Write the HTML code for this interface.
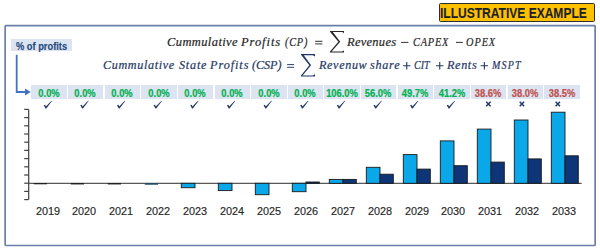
<!DOCTYPE html><html><head><meta charset="utf-8"><style>
html,body{margin:0;padding:0;background:#fff;width:600px;height:252px;overflow:hidden;position:relative}
.a{position:absolute}
.t{position:absolute;white-space:nowrap;transform-origin:0 0}
.c{position:absolute;background:#dce4f1;height:14px;top:84.8px;width:35.4px}
.lb{position:absolute;width:80px;text-align:center;white-space:nowrap;font-family:"Liberation Sans",sans-serif;font-weight:bold;transform-origin:40px 0;-webkit-text-stroke:0.2px currentColor}
.yr{position:absolute;width:60px;text-align:center;white-space:nowrap;font-family:"Liberation Sans",sans-serif;color:#262626;transform-origin:30px 0;-webkit-text-stroke:0.15px #262626}
</style></head><body>
<div class="a" style="left:439.2px;top:2.6px;width:153.7px;height:17.8px;background:#ffc000;border:1px solid #2e2e2e;border-radius:1.5px"></div>
<svg class="a" style="left:0;top:0" width="600" height="252"><rect x="5.15" y="25.65" width="590" height="219.85" rx="0.8" fill="none" stroke="#6a7fa9" stroke-width="1.7"/></svg>
<div class="a" style="left:10.8px;top:39.3px;width:60.9px;height:12px;background:#dce4f1"></div>
<svg class="a" style="left:0;top:0" width="600" height="252"><path d="M315.1 41.3 H322.4 M315.1 43.9 H322.4" stroke="#262626" stroke-width="0.95"/><path d="M401.1 42.4 H408.4 M456.0 42.4 H462.9" stroke="#262626" stroke-width="0.95"/><path d="M287.1 64.6 H294.1 M287.1 67.3 H294.1" stroke="#1f3864" stroke-width="0.95"/><path d="M403.05 65.8 H410.45 M406.75 62.1 V69.5" stroke="#1f3864" stroke-width="1.1"/><path d="M436.05 65.8 H443.45 M439.75 62.1 V69.5" stroke="#1f3864" stroke-width="1.1"/><path d="M480.65 65.8 H488.05 M484.35 62.1 V69.5" stroke="#1f3864" stroke-width="1.1"/></svg>
<div class="t" style="left:440.48px;top:-1.20px;font-family:'Liberation Sans',sans-serif;font-size:14px;line-height:28.000px;font-weight:bold;font-style:normal;color:#1a1f2b;transform:scaleX(0.8591);letter-spacing:0.0px;-webkit-text-stroke:0.1px #1a1f2b">ILLUSTRATIVE EXAMPLE</div>
<div class="t" style="left:15.88px;top:36.90px;font-family:'Liberation Sans',sans-serif;font-size:10.2px;line-height:20.400px;font-weight:bold;font-style:normal;color:#1f497d;transform:scaleX(0.9119);letter-spacing:0.0px;-webkit-text-stroke:0.15px #1f497d">% of profits</div>
<div class="t" style="left:166.54px;top:30.00px;font-family:'Liberation Serif',serif;font-size:12.0px;line-height:24.000px;font-weight:normal;font-style:italic;color:#262626;transform:scaleX(1.04);letter-spacing:0.39px;-webkit-text-stroke:0.2px #262626">Cummulative</div>
<div class="t" style="left:240.89px;top:30.00px;font-family:'Liberation Serif',serif;font-size:12.0px;line-height:24.000px;font-weight:normal;font-style:italic;color:#262626;transform:scaleX(1.04);letter-spacing:0.909px;-webkit-text-stroke:0.2px #262626">Profits</div>
<div class="t" style="left:285.39px;top:30.00px;font-family:'Liberation Serif',serif;font-size:12.0px;line-height:24.000px;font-weight:normal;font-style:italic;color:#262626;transform:scaleX(0.86);letter-spacing:0.888px;-webkit-text-stroke:0.2px #262626">(CP)</div>
<div class="t" style="left:347.39px;top:30.00px;font-family:'Liberation Serif',serif;font-size:12.0px;line-height:24.000px;font-weight:normal;font-style:italic;color:#262626;transform:scaleX(1.04);letter-spacing:0.268px;-webkit-text-stroke:0.2px #262626">Revenues</div>
<div class="t" style="left:412.71px;top:30.00px;font-family:'Liberation Serif',serif;font-size:12.0px;line-height:24.000px;font-weight:normal;font-style:italic;color:#262626;transform:scaleX(0.86);letter-spacing:0.935px;-webkit-text-stroke:0.2px #262626">CAPEX</div>
<div class="t" style="left:465.77px;top:30.00px;font-family:'Liberation Serif',serif;font-size:12.0px;line-height:24.000px;font-weight:normal;font-style:italic;color:#262626;transform:scaleX(0.86);letter-spacing:1.088px;-webkit-text-stroke:0.2px #262626">OPEX</div>
<div class="t" style="left:103.14px;top:54.20px;font-family:'Liberation Serif',serif;font-size:11.702px;line-height:23.404px;font-weight:normal;font-style:italic;color:#1f3864;transform:scaleX(1.04);letter-spacing:0.6px;-webkit-text-stroke:0.2px #1f3864">Cummulative</div>
<div class="t" style="left:179.25px;top:54.20px;font-family:'Liberation Serif',serif;font-size:11.702px;line-height:23.404px;font-weight:normal;font-style:italic;color:#1f3864;transform:scaleX(1.04);letter-spacing:0.763px;-webkit-text-stroke:0.2px #1f3864">State</div>
<div class="t" style="left:209.79px;top:54.20px;font-family:'Liberation Serif',serif;font-size:11.702px;line-height:23.404px;font-weight:normal;font-style:italic;color:#1f3864;transform:scaleX(1.04);letter-spacing:0.928px;-webkit-text-stroke:0.2px #1f3864">Profits</div>
<div class="t" style="left:252.09px;top:54.20px;font-family:'Liberation Serif',serif;font-size:11.702px;line-height:23.404px;font-weight:normal;font-style:italic;color:#1f3864;transform:scaleX(1.04);letter-spacing:-0.041px;-webkit-text-stroke:0.2px #1f3864">(CSP)</div>
<div class="t" style="left:318.79px;top:54.20px;font-family:'Liberation Serif',serif;font-size:11.702px;line-height:23.404px;font-weight:normal;font-style:italic;color:#1f3864;transform:scaleX(1.04);letter-spacing:0.616px;-webkit-text-stroke:0.2px #1f3864">Revenuw</div>
<div class="t" style="left:369.77px;top:54.20px;font-family:'Liberation Serif',serif;font-size:11.702px;line-height:23.404px;font-weight:normal;font-style:italic;color:#1f3864;transform:scaleX(1.04);letter-spacing:0.715px;-webkit-text-stroke:0.2px #1f3864">share</div>
<div class="t" style="left:414.33px;top:54.20px;font-family:'Liberation Serif',serif;font-size:11.702px;line-height:23.404px;font-weight:normal;font-style:italic;color:#1f3864;transform:scaleX(0.86);letter-spacing:-0.075px;-webkit-text-stroke:0.2px #1f3864">CIT</div>
<div class="t" style="left:447.19px;top:54.20px;font-family:'Liberation Serif',serif;font-size:11.702px;line-height:23.404px;font-weight:normal;font-style:italic;color:#1f3864;transform:scaleX(1.04);letter-spacing:0.632px;-webkit-text-stroke:0.2px #1f3864">Rents</div>
<div class="t" style="left:492.49px;top:54.20px;font-family:'Liberation Serif',serif;font-size:11.702px;line-height:23.404px;font-weight:normal;font-style:italic;color:#1f3864;transform:scaleX(0.86);letter-spacing:1.316px;-webkit-text-stroke:0.2px #1f3864">MSPT</div>
<svg class="a" style="left:329.6px;top:31.1px" width="14.4" height="21.6" viewBox="0 0 14.4 21.6" preserveAspectRatio="none"><path d="M0 0 H14.4 V3.6 Q13.9 1.1 11.5 1.1 H2.8 L10.2 10.8 L1.6 20.5 H11.5 Q13.9 20.5 14.4 18 V21.6 H0 V20.6 L8.4 10.8 L0 0.8 Z" fill="#262626"/></svg>
<svg class="a" style="left:301px;top:54.2px" width="14.3" height="22.6" viewBox="0 0 14.4 21.6" preserveAspectRatio="none"><path d="M0 0 H14.4 V3.6 Q13.9 1.1 11.5 1.1 H2.8 L10.2 10.8 L1.6 20.5 H11.5 Q13.9 20.5 14.4 18 V21.6 H0 V20.6 L8.4 10.8 L0 0.8 Z" fill="#1f3864"/></svg>
<svg class="a" style="left:0;top:0" width="600" height="252"><path d="M16.7 54.8 V92 H26" stroke="#4472c4" stroke-width="1.8" fill="none"/><path d="M25 88.6 L30.8 92 L25 95.4 Z" fill="#4472c4"/></svg>
<div class="c" style="left:31.30px"></div>
<div class="c" style="left:67.94px"></div>
<div class="c" style="left:104.58px"></div>
<div class="c" style="left:141.22px"></div>
<div class="c" style="left:177.86px"></div>
<div class="c" style="left:214.50px"></div>
<div class="c" style="left:251.14px"></div>
<div class="c" style="left:287.78px"></div>
<div class="c" style="left:324.42px"></div>
<div class="c" style="left:361.06px"></div>
<div class="c" style="left:397.70px"></div>
<div class="c" style="left:434.34px"></div>
<div class="c" style="left:470.98px"></div>
<div class="c" style="left:507.62px"></div>
<div class="c" style="left:544.26px"></div>
<div class="lb" style="left:8.70px;top:83.50px;font-size:10.2px;line-height:20.400px;color:#00b050;transform:scaleX(0.9177)">0.0%</div>
<div class="lb" style="left:45.34px;top:83.50px;font-size:10.2px;line-height:20.400px;color:#00b050;transform:scaleX(0.9177)">0.0%</div>
<div class="lb" style="left:81.98px;top:83.50px;font-size:10.2px;line-height:20.400px;color:#00b050;transform:scaleX(0.9177)">0.0%</div>
<div class="lb" style="left:118.62px;top:83.50px;font-size:10.2px;line-height:20.400px;color:#00b050;transform:scaleX(0.9177)">0.0%</div>
<div class="lb" style="left:155.26px;top:83.50px;font-size:10.2px;line-height:20.400px;color:#00b050;transform:scaleX(0.9177)">0.0%</div>
<div class="lb" style="left:191.90px;top:83.50px;font-size:10.2px;line-height:20.400px;color:#00b050;transform:scaleX(0.9177)">0.0%</div>
<div class="lb" style="left:228.54px;top:83.50px;font-size:10.2px;line-height:20.400px;color:#00b050;transform:scaleX(0.9177)">0.0%</div>
<div class="lb" style="left:265.18px;top:83.50px;font-size:10.2px;line-height:20.400px;color:#00b050;transform:scaleX(0.9177)">0.0%</div>
<div class="lb" style="left:301.82px;top:83.50px;font-size:10.2px;line-height:20.400px;color:#00b050;transform:scaleX(0.9177)">106.0%</div>
<div class="lb" style="left:338.46px;top:83.50px;font-size:10.2px;line-height:20.400px;color:#00b050;transform:scaleX(0.9177)">56.0%</div>
<div class="lb" style="left:375.10px;top:83.50px;font-size:10.2px;line-height:20.400px;color:#00b050;transform:scaleX(0.9177)">49.7%</div>
<div class="lb" style="left:411.74px;top:83.50px;font-size:10.2px;line-height:20.400px;color:#00b050;transform:scaleX(0.9177)">41.2%</div>
<div class="lb" style="left:448.38px;top:83.50px;font-size:10.2px;line-height:20.400px;color:#c0504d;transform:scaleX(0.9177)">38.6%</div>
<div class="lb" style="left:485.02px;top:83.50px;font-size:10.2px;line-height:20.400px;color:#c0504d;transform:scaleX(0.9177)">38.0%</div>
<div class="lb" style="left:521.66px;top:83.50px;font-size:10.2px;line-height:20.400px;color:#c0504d;transform:scaleX(0.9177)">38.5%</div>
<svg class="a" style="left:0;top:0" width="600" height="252"><path d="M52.00 101.0 L51.50 100.7 L45.90 106.5 L45.20 104.8 L43.70 105.2 L45.50 108.6 L46.30 108.5 Z" fill="#1f3864"/><path d="M88.64 101.0 L88.14 100.7 L82.54 106.5 L81.84 104.8 L80.34 105.2 L82.14 108.6 L82.94 108.5 Z" fill="#1f3864"/><path d="M125.28 101.0 L124.78 100.7 L119.18 106.5 L118.48 104.8 L116.98 105.2 L118.78 108.6 L119.58 108.5 Z" fill="#1f3864"/><path d="M161.92 101.0 L161.42 100.7 L155.82 106.5 L155.12 104.8 L153.62 105.2 L155.42 108.6 L156.22 108.5 Z" fill="#1f3864"/><path d="M198.56 101.0 L198.06 100.7 L192.46 106.5 L191.76 104.8 L190.26 105.2 L192.06 108.6 L192.86 108.5 Z" fill="#1f3864"/><path d="M235.20 101.0 L234.70 100.7 L229.10 106.5 L228.40 104.8 L226.90 105.2 L228.70 108.6 L229.50 108.5 Z" fill="#1f3864"/><path d="M271.84 101.0 L271.34 100.7 L265.74 106.5 L265.04 104.8 L263.54 105.2 L265.34 108.6 L266.14 108.5 Z" fill="#1f3864"/><path d="M308.48 101.0 L307.98 100.7 L302.38 106.5 L301.68 104.8 L300.18 105.2 L301.98 108.6 L302.78 108.5 Z" fill="#1f3864"/><path d="M345.12 101.0 L344.62 100.7 L339.02 106.5 L338.32 104.8 L336.82 105.2 L338.62 108.6 L339.42 108.5 Z" fill="#1f3864"/><path d="M381.76 101.0 L381.26 100.7 L375.66 106.5 L374.96 104.8 L373.46 105.2 L375.26 108.6 L376.06 108.5 Z" fill="#1f3864"/><path d="M418.40 101.0 L417.90 100.7 L412.30 106.5 L411.60 104.8 L410.10 105.2 L411.90 108.6 L412.70 108.5 Z" fill="#1f3864"/><path d="M455.04 101.0 L454.54 100.7 L448.94 106.5 L448.24 104.8 L446.74 105.2 L448.54 108.6 L449.34 108.5 Z" fill="#1f3864"/><path d="M486.20 101.8 L490.60 106.2 M490.60 101.8 L486.20 106.2" stroke="#1f3864" stroke-width="1.5" fill="none"/><path d="M519.70 101.8 L524.10 106.2 M524.10 101.8 L519.70 106.2" stroke="#1f3864" stroke-width="1.5" fill="none"/><path d="M555.60 101.8 L560.00 106.2 M560.00 101.8 L555.60 106.2" stroke="#1f3864" stroke-width="1.5" fill="none"/><path d="M28.7 109.4 V199.6" stroke="#404040" stroke-width="1.2" fill="none"/><path d="M24.2 109.40 H28.7" stroke="#404040" stroke-width="1.2" fill="none"/><path d="M24.2 117.60 H28.7" stroke="#404040" stroke-width="1.2" fill="none"/><path d="M24.2 125.80 H28.7" stroke="#404040" stroke-width="1.2" fill="none"/><path d="M24.2 134.00 H28.7" stroke="#404040" stroke-width="1.2" fill="none"/><path d="M24.2 142.20 H28.7" stroke="#404040" stroke-width="1.2" fill="none"/><path d="M24.2 150.40 H28.7" stroke="#404040" stroke-width="1.2" fill="none"/><path d="M24.2 158.60 H28.7" stroke="#404040" stroke-width="1.2" fill="none"/><path d="M24.2 166.80 H28.7" stroke="#404040" stroke-width="1.2" fill="none"/><path d="M24.2 175.00 H28.7" stroke="#404040" stroke-width="1.2" fill="none"/><path d="M24.2 183.20 H28.7" stroke="#404040" stroke-width="1.2" fill="none"/><path d="M24.2 191.40 H28.7" stroke="#404040" stroke-width="1.2" fill="none"/><path d="M24.2 199.60 H28.7" stroke="#404040" stroke-width="1.2" fill="none"/><path d="M28.7 183.3 H581.7" stroke="#595959" stroke-width="1.2" fill="none"/><rect x="33.80" y="183.10" width="13.2" height="1.17" fill="#1a1a1a"/><rect x="70.80" y="183.10" width="13.2" height="1.32" fill="#1a1a1a"/><rect x="107.80" y="183.10" width="13.2" height="1.32" fill="#1a1a1a"/><rect x="144.80" y="183.10" width="13.2" height="1.62" fill="#1d4a66"/><rect x="181.30" y="183.30" width="13.7" height="4.40" fill="#0aa8e8" stroke="#1a1a1a" stroke-width="0.9"/><rect x="218.30" y="183.30" width="13.7" height="7.30" fill="#0aa8e8" stroke="#1a1a1a" stroke-width="0.9"/><rect x="255.30" y="183.30" width="13.7" height="11.40" fill="#0aa8e8" stroke="#1a1a1a" stroke-width="0.9"/><rect x="292.30" y="183.30" width="13.7" height="8.40" fill="#0aa8e8" stroke="#1a1a1a" stroke-width="0.9"/><rect x="306.00" y="182.00" width="13.3" height="1.30" fill="#0d3578" stroke="#1a1a1a" stroke-width="0.9"/><rect x="329.30" y="179.40" width="13.7" height="3.90" fill="#0aa8e8" stroke="#1a1a1a" stroke-width="0.9"/><rect x="343.00" y="179.40" width="13.3" height="3.90" fill="#0d3578" stroke="#1a1a1a" stroke-width="0.9"/><rect x="366.30" y="167.30" width="13.7" height="16.00" fill="#0aa8e8" stroke="#1a1a1a" stroke-width="0.9"/><rect x="380.00" y="174.20" width="13.3" height="9.10" fill="#0d3578" stroke="#1a1a1a" stroke-width="0.9"/><rect x="403.30" y="154.60" width="13.7" height="28.70" fill="#0aa8e8" stroke="#1a1a1a" stroke-width="0.9"/><rect x="417.00" y="169.10" width="13.3" height="14.20" fill="#0d3578" stroke="#1a1a1a" stroke-width="0.9"/><rect x="440.30" y="140.90" width="13.7" height="42.40" fill="#0aa8e8" stroke="#1a1a1a" stroke-width="0.9"/><rect x="454.00" y="165.70" width="13.3" height="17.60" fill="#0d3578" stroke="#1a1a1a" stroke-width="0.9"/><rect x="477.30" y="129.10" width="13.7" height="54.20" fill="#0aa8e8" stroke="#1a1a1a" stroke-width="0.9"/><rect x="491.00" y="162.10" width="13.3" height="21.20" fill="#0d3578" stroke="#1a1a1a" stroke-width="0.9"/><rect x="514.30" y="120.00" width="13.7" height="63.30" fill="#0aa8e8" stroke="#1a1a1a" stroke-width="0.9"/><rect x="528.00" y="158.90" width="13.3" height="24.40" fill="#0d3578" stroke="#1a1a1a" stroke-width="0.9"/><rect x="551.30" y="112.20" width="13.7" height="71.10" fill="#0aa8e8" stroke="#1a1a1a" stroke-width="0.9"/><rect x="565.00" y="155.80" width="13.3" height="27.50" fill="#0d3578" stroke="#1a1a1a" stroke-width="0.9"/></svg>
<div class="yr" style="left:17.50px;top:200.30px;font-size:11px;line-height:22.000px;transform:scaleX(0.9861)">2019</div>
<div class="yr" style="left:54.40px;top:200.30px;font-size:11px;line-height:22.000px;transform:scaleX(0.9861)">2020</div>
<div class="yr" style="left:91.30px;top:200.30px;font-size:11px;line-height:22.000px;transform:scaleX(0.9861)">2021</div>
<div class="yr" style="left:128.20px;top:200.30px;font-size:11px;line-height:22.000px;transform:scaleX(0.9861)">2022</div>
<div class="yr" style="left:165.10px;top:200.30px;font-size:11px;line-height:22.000px;transform:scaleX(0.9861)">2023</div>
<div class="yr" style="left:202.00px;top:200.30px;font-size:11px;line-height:22.000px;transform:scaleX(0.9861)">2024</div>
<div class="yr" style="left:238.90px;top:200.30px;font-size:11px;line-height:22.000px;transform:scaleX(0.9861)">2025</div>
<div class="yr" style="left:275.80px;top:200.30px;font-size:11px;line-height:22.000px;transform:scaleX(0.9861)">2026</div>
<div class="yr" style="left:312.70px;top:200.30px;font-size:11px;line-height:22.000px;transform:scaleX(0.9861)">2027</div>
<div class="yr" style="left:349.60px;top:200.30px;font-size:11px;line-height:22.000px;transform:scaleX(0.9861)">2028</div>
<div class="yr" style="left:386.50px;top:200.30px;font-size:11px;line-height:22.000px;transform:scaleX(0.9861)">2029</div>
<div class="yr" style="left:423.40px;top:200.30px;font-size:11px;line-height:22.000px;transform:scaleX(0.9861)">2030</div>
<div class="yr" style="left:460.30px;top:200.30px;font-size:11px;line-height:22.000px;transform:scaleX(0.9861)">2031</div>
<div class="yr" style="left:497.20px;top:200.30px;font-size:11px;line-height:22.000px;transform:scaleX(0.9861)">2032</div>
<div class="yr" style="left:534.10px;top:200.30px;font-size:11px;line-height:22.000px;transform:scaleX(0.9861)">2033</div>
</body></html>
